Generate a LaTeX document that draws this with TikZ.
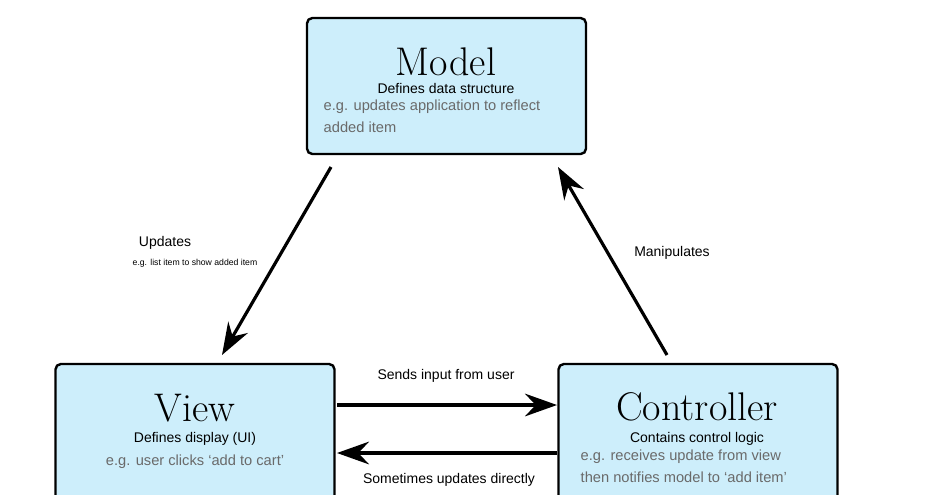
\documentclass[tikz,border=0pt]{standalone}
\usepackage{fontspec}
\setmainfont{Liberation Sans}
\newfontfamily\titlefont{Latin Modern Roman}
\usetikzlibrary{arrows.meta}
\definecolor{boxfill}{HTML}{CDEEFB}
\definecolor{egray}{HTML}{6A6A6A}
\begin{document}
\begin{tikzpicture}[x=0.75pt,y=-0.75pt,
  box/.style={draw=black,line width=1.8pt,rounded corners=4pt,fill=boxfill,minimum width=279*0.75pt,inner sep=0pt},
  ttl/.style={font=\titlefont\fontsize{30}{30}\selectfont,anchor=base},
  sub/.style={font=\fontsize{10.5}{12}\selectfont,anchor=base},
  eg/.style={font=\fontsize{11}{12}\selectfont,text=egray,anchor=base west},
  egc/.style={font=\fontsize{11}{12}\selectfont,text=egray,anchor=base},
  lab/.style={font=\fontsize{10.5}{12}\selectfont},
  arr/.style={line width=2.4pt,-{Stealth[length=24pt,width=17pt,inset=8pt]}}]
\useasboundingbox (0,0) rectangle (941,494);
\begin{scope}
\clip (0,0) rectangle (941,494);
\node[box,minimum height=136*0.75pt] (model) at (446.5,86) {};
\node[box,minimum height=160*0.75pt] (view) at (195,444) {};
\node[box,minimum height=160*0.75pt] (ctrl) at (698,444) {};
\end{scope}
\node[ttl] (mt) at (446,75) {Model};
\node[sub] (ms) at (446,93) {Defines data structure};
\node[eg] (me1) at (319,110) {e.g. updates application to reflect};
\node[eg] (me2) at (319,132) {added item};
\node[ttl] (vt) at (195,421) {View};
\node[sub] (vs) at (195,442) {Defines display (UI)};
\node[egc] (ve) at (195,465) {e.g. user clicks `add to cart'};
\node[ttl] (ct) at (697,420) {Controller};
\node[sub] (cs) at (697,442) {Contains control logic};
\node[eg] (ce1) at (576,460) {e.g. receives update from view};
\node[eg] (ce2) at (576,482) {then notifies model to `add item'};
\coordinate (m1) at (331,167);
\coordinate (v1) at (222,355);
\coordinate (c1) at (667,355);
\coordinate (m2) at (558,167);
\coordinate (v2) at (337,405);
\coordinate (c2) at (557,405);
\coordinate (c3) at (557,453);
\coordinate (v3) at (337,453);
\draw[arr] (m1) -- (v1);
\draw[arr] (c1) -- (m2);
\draw[arr] (v2) -- (c2);
\draw[arr] (c3) -- (v3);
\node[lab] (l1) at (165,243) {Updates};
\node[font=\fontsize{6.5}{8}\selectfont] (l1b) at (195,263) {e.g. list item to show added item};
\node[lab] (l2) at (672,253) {Manipulates};
\node[lab] (l3) at (446,376) {Sends input from user};
\node[lab] (l4) at (449,480) {Sometimes updates directly};
\end{tikzpicture}
\end{document}
